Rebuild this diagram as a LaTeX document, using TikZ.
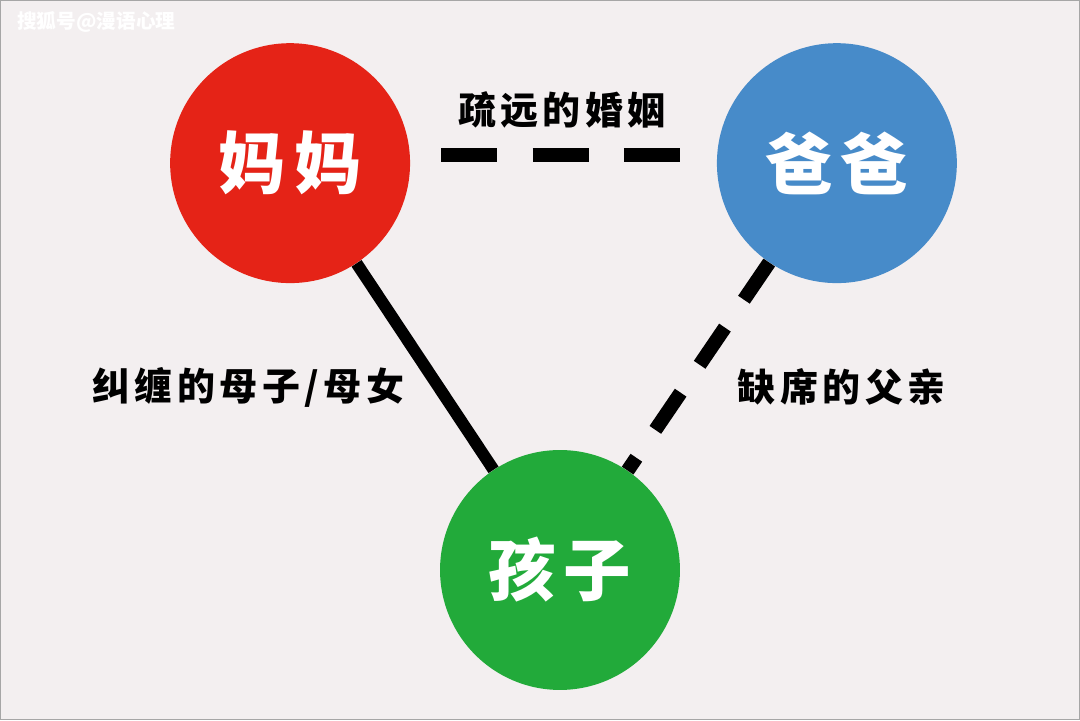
\documentclass[tikz,border=0pt]{standalone}
\usepackage{fontspec}
\newfontfamily\cjk{Noto Sans CJK SC}
\newfontfamily\cjkwide{Noto Sans CJK SC}[LetterSpace=12]
\usetikzlibrary{positioning}
\definecolor{bgpink}{HTML}{F3EFF0}
\definecolor{momred}{HTML}{E52317}
\definecolor{dadblue}{HTML}{478BC9}
\definecolor{kidgreen}{HTML}{22AA3A}
\begin{document}
\begin{tikzpicture}[x=0.025cm,y=-0.025cm,
  person/.style = {circle, minimum size=240*0.025cm, inner sep=0pt, text=white,
                   font=\cjkwide\bfseries\fontsize{48}{52}\selectfont},
  tie/.style    = {line width=10pt, black},
  gap/.style    = {tie, dash pattern=on 40pt off 25pt},
  lbl/.style    = {font=\cjkwide\bfseries\fontsize{27}{30}\selectfont},
  ]
  % background
  \fill[bgpink] (0,0) rectangle (1080,720);
  \draw[gray!70, line width=1pt] (0.5,0.5) rectangle (1079.5,719.5);
  \node[anchor=west, text=white, font=\cjk\bfseries\fontsize{14}{16}\selectfont] (mark) at (12,22) {搜狐号@漫语心理};

  % family
  \node (mom) at (290,163) [person, fill=momred]   {妈妈};
  \node (dad) at (837,163) [person, fill=dadblue]  {爸爸};
  \node (kid) at (560,570) [person, fill=kidgreen] {孩子};

  % ties
  \draw[gap, shorten <=22pt, shorten >=24pt] ([yshift=6pt]mom.east) -- ([yshift=6pt]dad.west);
  \draw[tie, line width=8.5pt] (mom) -- (kid);
  \draw[gap, dash pattern=on 32pt off 24pt] (dad) -- (kid);

  % labels
  \node[lbl] (marriage) at (562,110) {疏远的婚姻};
  \node[lbl] (bond)     at (248,387) {纠缠的母子/母女};
  \node[lbl] (absent)   at (842,387) {缺席的父亲};
\end{tikzpicture}
\end{document}
